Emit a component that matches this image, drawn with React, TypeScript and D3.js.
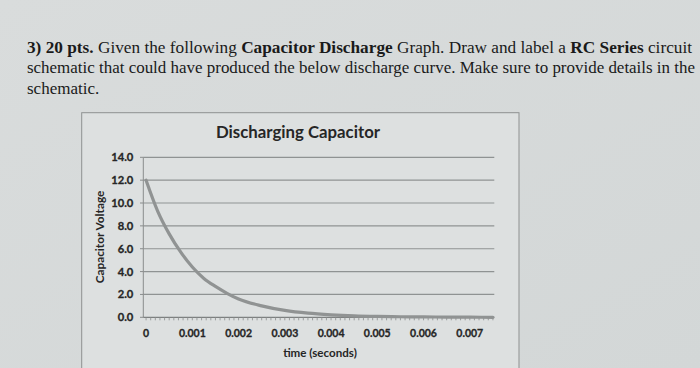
import * as d3 from "d3";
import React from "react";

// values (seconds, volts)
const times = [
  0, 0.00025, 0.0005, 0.00075, 0.001, 0.00125, 0.0015, 0.00175, 0.002,
  0.0025, 0.003, 0.0035, 0.004, 0.0045, 0.005, 0.0055, 0.006, 0.0065, 0.007, 0.0075,
];
const volts = [
  12.0, 9.3, 7.3, 5.7, 4.4, 3.4, 2.7, 2.1, 1.6,
  1.0, 0.6, 0.36, 0.22, 0.13, 0.08, 0.05, 0.03, 0.02, 0.01, 0.0,
];
const yTicks = [0, 2, 4, 6, 8, 10, 12, 14];
const xTicks = [0, 0.001, 0.002, 0.003, 0.004, 0.005, 0.006, 0.007];
const xTickLabels = ["0", "0.001", "0.002", "0.003", "0.004", "0.005", "0.006", "0.007"];

const W = 700;
const H = 368;
const sans = "Lato, 'Open Sans', sans-serif";
const serif = "'Liberation Serif', 'DejaVu Serif', serif";
const ink = "#262626";

export default function App() {
  const x = d3.scaleLinear().domain([-0.00006, 0.00753]).range([143.3, 494.3]);
  const y = d3.scaleLinear().domain([0, 14]).range([317.3, 157.3]);

  const pts = times.map((t, i) => [t, volts[i]] as [number, number]);
  const line = d3
    .line<[number, number]>()
    .x((d) => x(d[0]))
    .y((d) => y(d[1]))
    .curve(d3.curveMonotoneX);

  // the small ticks along the time axis
  const minor = d3.range(0, 76).map((i) => i * 0.0001);

  return (
    <svg width={W} height={H} style={{ position: "absolute", left: 0, top: 0 }}>
      <defs>
        <linearGradient id="paper" x1="0" x2="1" y1="0" y2="1">
          <stop offset="0" stopColor="#d9dcdc" />
          <stop offset="1" stopColor="#d3d7d7" />
        </linearGradient>
      </defs>
      <rect width={W} height={H} fill="url(#paper)" />

      <g fontFamily={serif} fontSize={17} fill="#1a1a1a">
        <text x={27} y={52.5} textLength={665} lengthAdjust="spacingAndGlyphs">
          <tspan fontWeight="bold">3) 20 pts.</tspan> Given the following{" "}
          <tspan fontWeight="bold">Capacitor Discharge</tspan> Graph.  Draw and label a{" "}
          <tspan fontWeight="bold">RC Series</tspan> circuit
        </text>
        <text x={27} y={73} textLength={668} lengthAdjust="spacingAndGlyphs">
          schematic that could have produced the below discharge curve.  Make sure to provide details in the
        </text>
        <text x={27} y={93.5}>schematic.</text>
      </g>

      <rect x={81.7} y={112.7} width={437.3} height={270} fill="#dde0e0" stroke="#8e9191" strokeWidth={1} />

      <text x={298} y={138} textAnchor="middle" fontFamily={sans} fontWeight="bold" fontSize={16.8} fill={ink}>
        Discharging Capacitor
      </text>

      {yTicks.filter((v) => v > 0).map((v) => (
        <line key={v} x1={x.range()[0]} x2={x.range()[1]} y1={y(v)} y2={y(v)} stroke="#8f9393" strokeWidth={1.2} />
      ))}

      <line x1={143.3} x2={143.3} y1={y(14)} y2={y(0)} stroke="#8a8d8d" strokeWidth={1} />
      {yTicks.map((v) => (
        <g key={v}>
          <line x1={140} x2={143.3} y1={y(v)} y2={y(v)} stroke="#8a8d8d" />
          <text x={133.3} y={y(v)} dy="0.35em" textAnchor="end" fontFamily={sans} fontWeight="bold" fontSize={11.2} fill={ink} stroke={ink} strokeWidth={0.3}>
            {v.toFixed(1)}
          </text>
        </g>
      ))}

      <line x1={143.3} x2={494.3} y1={y(0)} y2={y(0)} stroke="#7d8080" strokeWidth={1.2} />
      {minor.map((t, i) => (
        <line key={i} x1={x(t)} x2={x(t)} y1={y(0)} y2={y(0) + 3} stroke="#8a8d8d" strokeWidth={0.8} />
      ))}
      {xTicks.map((t, i) => (
        <text key={t} x={x(t)} y={333} dy="0.35em" textAnchor="middle" fontFamily={sans} fontWeight="bold" fontSize={10.5} fill={ink} stroke={ink} strokeWidth={0.3}>
          {xTickLabels[i]}
        </text>
      ))}

      <path d={line(pts) || ""} fill="none" stroke="#909393" strokeWidth={3.2} strokeLinecap="round" />

      <text x={320} y={353} dy="0.35em" textAnchor="middle" fontFamily={sans} fontWeight="bold" fontSize={11.6} fill={ink}>
        time (seconds)
      </text>
      <text
        transform="translate(100,237) rotate(-90)"
        textAnchor="middle"
        dy="0.35em"
        fontFamily={sans}
        fontWeight="bold"
        fontSize={11.8}
        fill={ink}
      >
        Capacitor Voltage
      </text>
    </svg>
  );
}
